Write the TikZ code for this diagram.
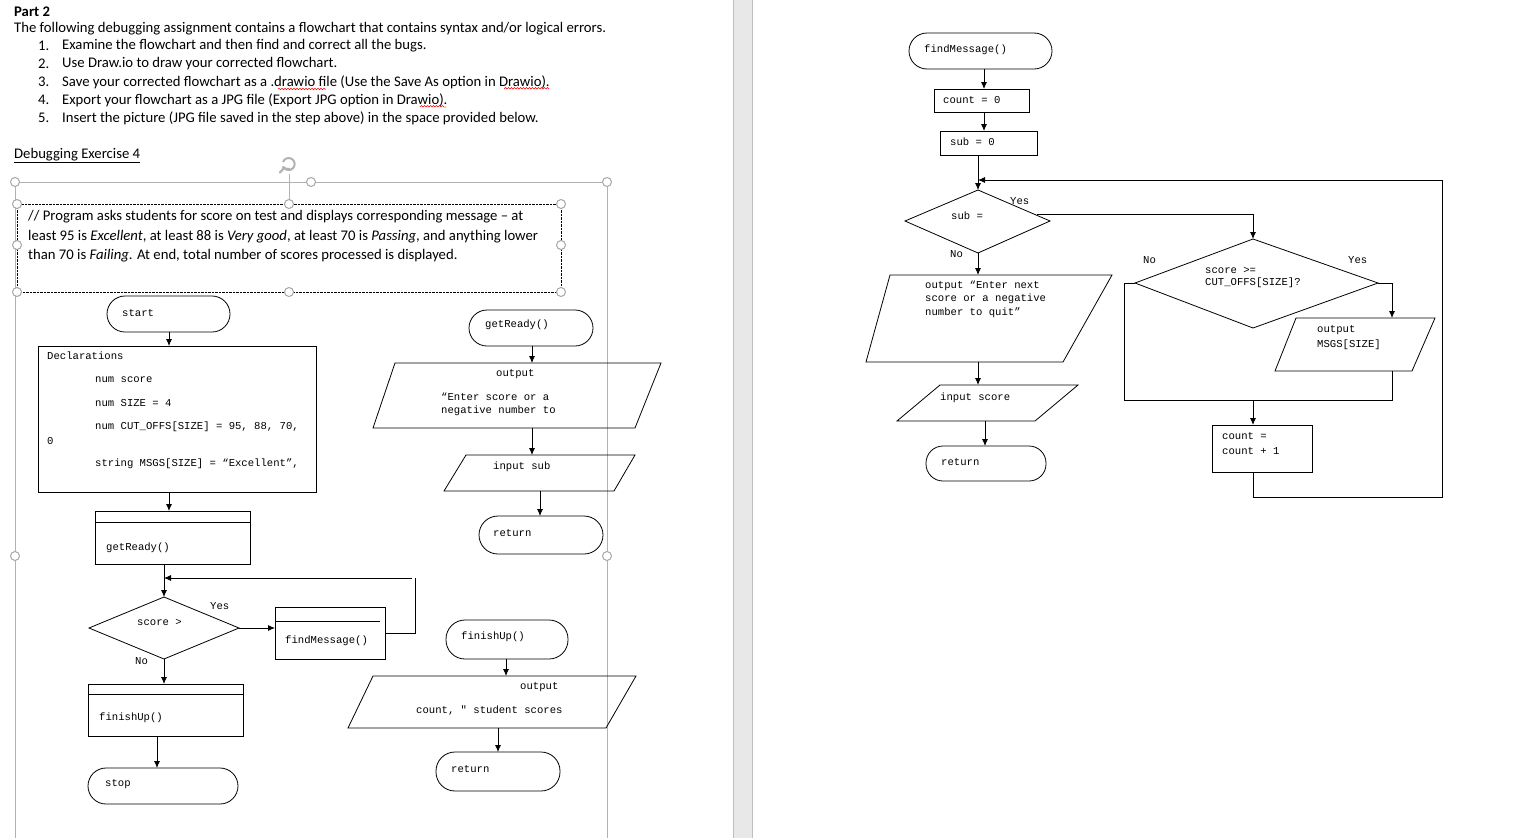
\documentclass[tikz,border=0pt]{standalone}
\usepackage{fontspec}
\setmainfont{Carlito}
\newfontfamily\mono{Liberation Mono}
\usetikzlibrary{arrows.meta,decorations.pathmorphing}
\begin{document}
\begin{tikzpicture}[x=1pt,y=-1pt,
  ln/.style={line width=0.8pt},
  ar/.style={line width=0.8pt,-{Latex[length=7,width=6]}},
  tx/.style={anchor=west,inner sep=0,font=\mono\fontsize{10.6}{12}\selectfont},
  bt/.style={anchor=west,inner sep=0,font=\fontsize{14.7}{16}\selectfont},
  hd/.style={draw=gray!70,fill=white,line width=1pt,circle,inner sep=0,minimum size=9pt},
  sel/.style={draw=gray!60,line width=1pt},
  wavy/.style={red,line width=0.5pt,decorate,decoration={snake,amplitude=0.8pt,segment length=3pt}}]
\useasboundingbox (0,0) rectangle (1530,838);
\fill[gray!18] (733,0) rectangle (752,838);
\draw[gray!50] (733,0) -- (733,838) (752,0) -- (752,838);
% header text
\node[bt,font=\bfseries\fontsize{14.7}{16}\selectfont] (p2) at (14,12) {Part 2};
\node[bt] (l0) at (14,29) {The following debugging assignment contains a flowchart that contains syntax and/or logical errors.};
\node[bt] at (38,46) {1.}; \node[bt] (l1) at (62,46) {Examine the flowchart and then find and correct all the bugs.};
\node[bt] at (38,64) {2.}; \node[bt] (l2) at (62,64) {Use Draw.io to draw your corrected flowchart.};
\node[bt] at (38,82) {3.}; \node[bt] (l3) at (62,82) {Save your corrected flowchart as a .drawio file (Use the Save As option in Drawio).};
\node[bt] at (38,100) {4.}; \node[bt] (l4) at (62,100) {Export your flowchart as a JPG file (Export JPG option in Drawio).};
\node[bt] at (38,118) {5.}; \node[bt] (l5) at (62,118) {Insert the picture (JPG file saved in the step above) in the space provided below.};
\draw[wavy] (278,89) -- (325,89) (504,89) -- (549,89) (420,107) -- (446,107);
\node[bt] (de) at (14,155) {Debugging Exercise 4};
\draw (14,162) -- (140,162);
% selection frame
\draw[sel] (15,182) -- (607,182) (15,182) -- (15,838) (607,182) -- (607,838) (289,174) -- (289,204);
\draw[gray!60,line width=2pt,->] (283,162) arc (200:520:6);
\draw[black,densely dotted] (17,204) rectangle (561,292);
\foreach \p in {(15,182),(311,182),(607,182),(15,556),(607,556),(17,204),(289,204),(561,204),(17,245),(561,245),(17,292),(289,292),(561,292)} \node[hd] at \p {};
\node[bt] at (28,217) {// Program asks students for score on test and displays corresponding message -- at};
\node[bt] at (28,237) {least 95 is \textit{Excellent}, at least 88 is \textit{Very good}, at least 70 is \textit{Passing}, and anything lower};
\node[bt] at (28,256) {than 70 is \textit{Failing}. At end, total number of scores processed is displayed.};
% left flowchart
\draw[ln,rounded corners=18] (107,296) rectangle (230,332);
\node[tx] (start) at (122,313) {start};
\draw[ln] (38,346) rectangle (316,492);
\node[tx] (decl) at (47,356) {Declarations};
\node[tx] at (95,380) {num score};
\node[tx] at (95,403) {num SIZE = 4};
\node[tx] at (95,427) {num CUT\_OFFS[SIZE] = 95, 88, 70,};
\node[tx] at (47,441) {0};
\node[tx] at (95,464) {string MSGS[SIZE] = “Excellent”,};
\draw[ar] (169,332) -- (169,346);
\draw[ar] (169,492) -- (169,511);
\draw[ln] (95,511) rectangle (250,564) (95,522) -- (250,522);
\node[tx] (gr) at (106,548) {getReady()};
\draw[ar] (164,564) -- (164,597);
\draw[ln] (164,597) -- (239,628) -- (164,659) -- (89,628) -- cycle;
\node[tx] (sc) at (137,622) {score >};
\node[tx] at (210,606) {Yes};
\node[tx] at (135,661) {No};
\draw[ar] (239,628) -- (275,628);
\draw[ln] (275,607) rectangle (385,659) (275,621) -- (380,621);
\node[tx] (fm) at (285,641) {findMessage()};
\draw[ln] (385,633) -- (415,633) -- (415,578);
\draw[ar] (412,578) -- (164,578);
\draw[ar] (164,659) -- (164,684);
\draw[ln] (88,684) rectangle (243,736) (88,694) -- (243,694);
\node[tx] (fu) at (99,718) {finishUp()};
\draw[ar] (157,736) -- (157,768);
\draw[ln,rounded corners=18] (88,768) rectangle (238,804);
\node[tx] (stop) at (105,784) {stop};
% middle
\draw[ln,rounded corners=18] (469,310) rectangle (593,346);
\node[tx] (gr2) at (485,325) {getReady()};
\draw[ar] (532,346) -- (532,363);
\draw[ln] (395,363) -- (661,363) -- (635,428) -- (373,428) -- cycle;
\node[tx] at (496,374) {output};
\node[tx] at (441,397) {“Enter score or a};
\node[tx] at (441,411) {negative number to};
\draw[ar] (532,428) -- (532,455);
\draw[ln] (466,455) -- (635,455) -- (614,491) -- (444,491) -- cycle;
\node[tx] at (493,467) {input sub};
\draw[ar] (540,491) -- (540,516);
\draw[ln,rounded corners=19] (479,516) rectangle (603,554);
\node[tx] at (493,533) {return};
\draw[ln,rounded corners=19] (446,620) rectangle (568,659);
\node[tx] at (461,637) {finishUp()};
\draw[ar] (506,659) -- (506,676);
\draw[ln] (373,676) -- (636,676) -- (606,728) -- (348,728) -- cycle;
\node[tx] at (520,687) {output};
\node[tx] at (416,711) {count, " student scores};
\draw[ar] (498,728) -- (498,752);
\draw[ln,rounded corners=19] (436,752) rectangle (560,791);
\node[tx] at (451,769) {return};
% right page
\draw[ln,rounded corners=18] (909,33) rectangle (1052,69);
\node[tx] at (924,50) {findMessage()};
\draw[ar] (984,69) -- (984,89);
\draw[ln] (934,89) rectangle (1029,112);
\node[tx] at (943,100) {count = 0};
\draw[ar] (984,112) -- (984,131);
\draw[ln] (940,131) rectangle (1037,155);
\node[tx] at (950,142) {sub = 0};
\draw[ar] (978,155) -- (978,190);
\draw[ln] (978,190) -- (1050,221) -- (978,253) -- (905,221) -- cycle;
\node[tx] at (951,216) {sub =};
\node[tx] at (1010,201) {Yes};
\node[tx] at (950,254) {No};
\draw[ln] (1037,214) -- (1253,214);
\draw[ar] (1253,214) -- (1253,239);
\draw[ar] (978,253) -- (978,275);
\draw[ln] (890,275) -- (1112,275) -- (1063,362) -- (866,362) -- cycle;
\node[tx] at (925,286) {output “Enter next};
\node[tx] at (925,299) {score or a negative};
\node[tx] at (925,313) {number to quit”};
\draw[ar] (978,362) -- (978,385);
\draw[ln] (940,385) -- (1078,385) -- (1035,421) -- (897,421) -- cycle;
\node[tx] at (940,398) {input score};
\draw[ar] (985,421) -- (985,446);
\draw[ln,rounded corners=17] (926,446) rectangle (1046,481);
\node[tx] at (941,462) {return};
\draw[ln] (1253,239) -- (1378,283) -- (1253,328) -- (1135,283) -- cycle;
\node[tx] at (1205,270) {score >=};
\node[tx] at (1205,283) {CUT\_OFFS[SIZE]?};
\node[tx] at (1143,260) {No};
\node[tx] at (1348,260) {Yes};
\draw[ln] (1135,283) -- (1124,283) -- (1124,400) -- (1392,400) -- (1392,371);
\draw[ln] (1378,283) -- (1392,283);
\draw[ar] (1392,283) -- (1392,318);
\draw[ln] (1296,318) -- (1435,318) -- (1412,371) -- (1275,371) -- cycle;
\node[tx] at (1317,330) {output};
\node[tx] at (1317,345) {MSGS[SIZE]};
\draw[ar] (1253,400) -- (1253,425);
\draw[ln] (1212,425) rectangle (1312,472);
\node[tx] at (1222,436) {count =};
\node[tx] at (1222,451) {count + 1};
\draw[ln] (1253,472) -- (1253,497) -- (1442,497) -- (1442,180);
\draw[ar] (1442,180) -- (978,180);
\end{tikzpicture}
\end{document}
